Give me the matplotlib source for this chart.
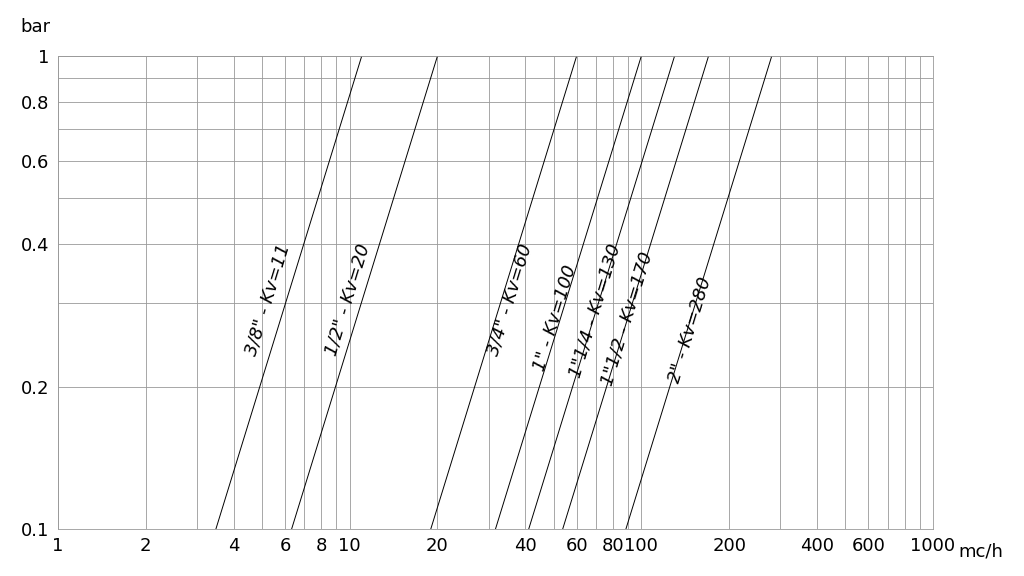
import numpy as np
import matplotlib.pyplot as plt

# valve sizes and flow coefficients
sizes = ['3/8"', '1/2"', '3/4"', '1"', '1"1/4', '1"1/2', '2"']
kv = [11, 20, 60, 100, 130, 170, 280]
# label anchor positions (flow, pressure drop)
label_x = [5.25, 9.85, 35.4, 50.6, 69.3, 89.3, 147]
label_y = [0.305, 0.305, 0.305, 0.279, 0.29, 0.279, 0.264]

xticks = [1, 2, 4, 6, 8, 10, 20, 40, 60, 80, 100, 200, 400, 600, 1000]
yticks = [0.1, 0.2, 0.4, 0.6, 0.8, 1]

fig = plt.figure(figsize=(10.24, 5.76), dpi=100)
ax = fig.add_axes([58 / 1024, 1 - 529 / 576, 875 / 1024, 473 / 576])
ax.set_xscale('log')
ax.set_yscale('log')
ax.set_xlim(1, 1000)
ax.set_ylim(0.1, 1)

for v in list(range(1, 10)) + list(range(10, 100, 10)) + list(range(100, 1001, 100)):
    ax.axvline(v, color='#999999', lw=0.6)
for v in np.arange(1, 11) / 10:
    ax.axhline(v, color='#999999', lw=0.6)

dp = np.array([0.1, 1.0])
for s, k, lx, ly in zip(sizes, kv, label_x, label_y):
    ax.plot(k * np.sqrt(dp), dp, color='black', lw=0.7)
    ax.text(lx, ly, f'{s} - Kv={k}', rotation=73, fontsize=13, style='italic',
            ha='center', va='center', rotation_mode='anchor')

ax.set_xticks(xticks)
ax.set_xticklabels([str(t) for t in xticks])
ax.set_yticks(yticks)
ax.set_yticklabels(['0.1', '0.2', '0.4', '0.6', '0.8', '1'])
ax.minorticks_off()
ax.tick_params(length=0, labelsize=13, pad=6)
for sp in ax.spines.values():
    sp.set_color('#999999')
    sp.set_linewidth(0.6)

fig.text(20 / 1024, 1 - 27 / 576, 'bar', fontsize=13, va='center')
fig.text(958 / 1024, 1 - 551 / 576, 'mc/h', fontsize=13, va='center')

fig.savefig('out.png', dpi=100)
